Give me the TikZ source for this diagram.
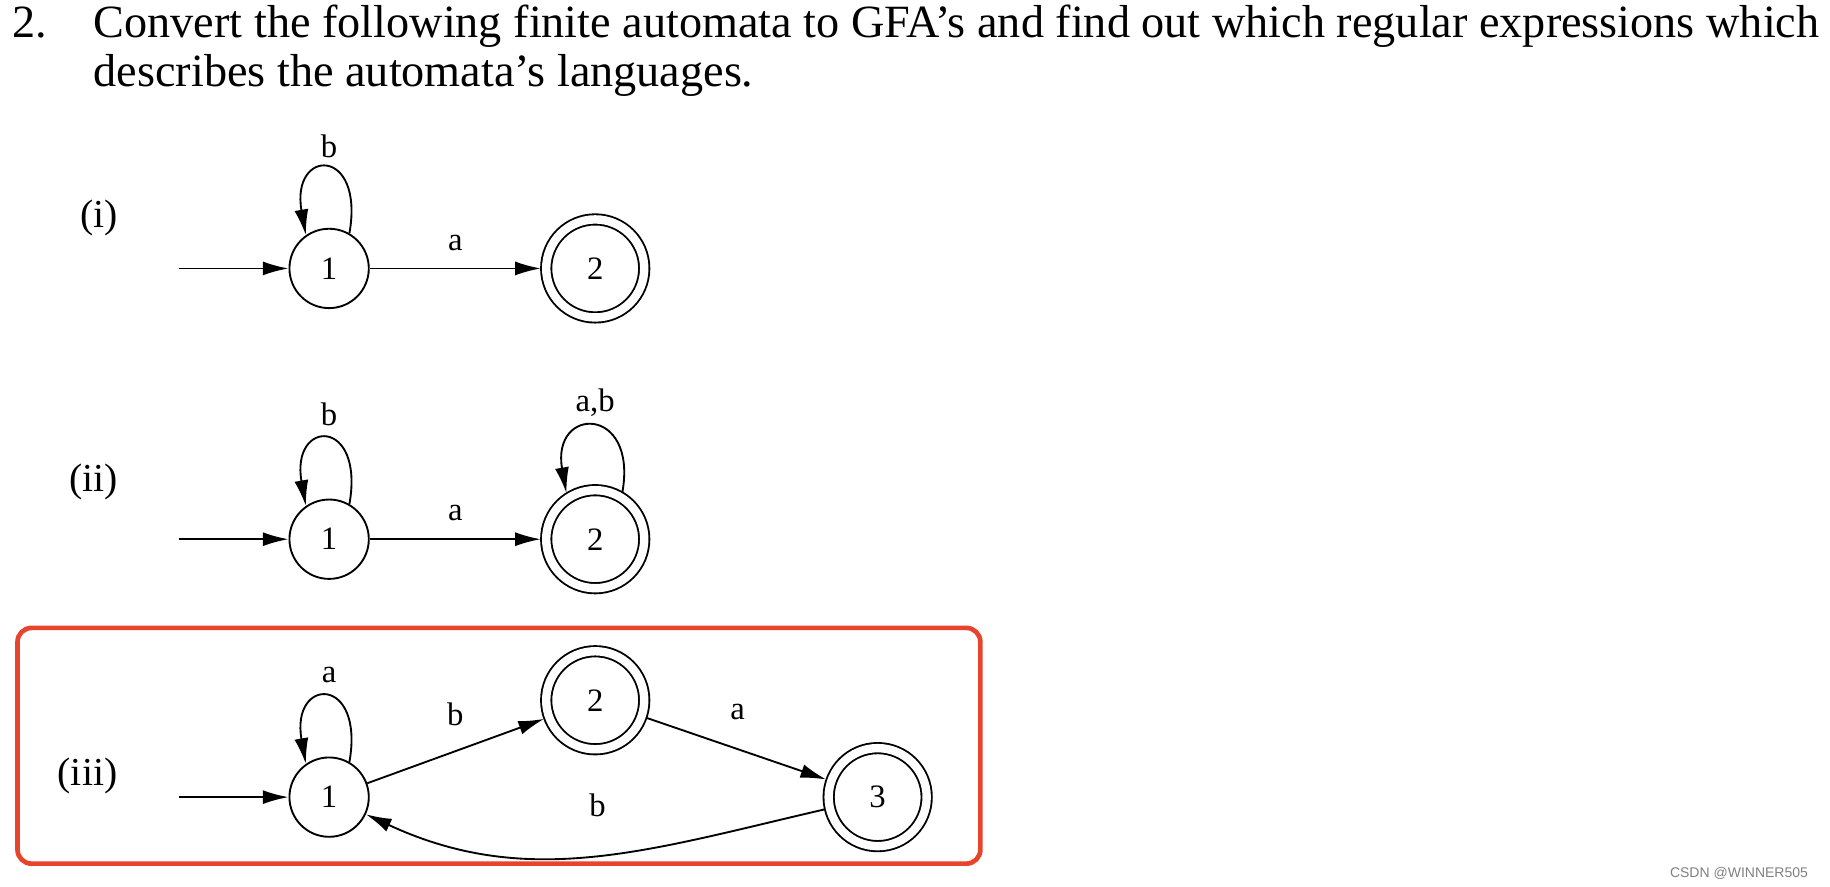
\documentclass[tikz,border=0pt]{standalone}
\usepackage{fontspec}
\setmainfont{Liberation Serif}
\newfontfamily\wmfont{Liberation Sans}
\usetikzlibrary{arrows.meta}
\begin{document}
\begin{tikzpicture}[x=0.5pt,y=-0.5pt,
  st/.style={circle,draw,line width=0.8pt,minimum size=34pt,inner sep=0pt,font=\fontsize{14}{14}\selectfont},
  acc/.style={circle,draw,line width=0.8pt,double,double distance=3.6pt,minimum size=42pt,inner sep=0pt,outer sep=2.3pt,font=\fontsize{14}{14}\selectfont},
  lbl/.style={font=\fontsize{14}{14}\selectfont},
  ed/.style={line width=0.8pt,-{Latex[length=11pt,width=6pt]}},
  lp/.style={ed,out=80,in=100,distance=38pt},
  ttl/.style={font=\fontsize{19.8}{22}\selectfont,anchor=base west,inner sep=0pt}]
\useasboundingbox (0,0) rectangle (1568,760);
\node[ttl] (n2) at (10,32) {2.};
\node[ttl] (t1) at (80,32) {Convert the following finite automata to GFA’s and find out which regular expressions which};
\node[ttl] (t2) at (80,74) {describes the automata’s languages.};
% (i)
\node[lbl,font=\fontsize{17}{17}\selectfont] (li) at (85,187) {(i)};
\node[st] (a1) at (282,230) {1};
\node[acc] (a2) at (510,230) {2};
\coordinate (as) at (153,230);
\draw[ed] (as) -- (a1);
\draw[ed] (a1) -- node[lbl,above=4pt] (la) {a} (a2);
\draw[lp] (a1.60) to (a1.125);
\node[lbl] (lb) at (282,125) {b};
% (ii)
\node[lbl,font=\fontsize{17}{17}\selectfont] (lii) at (80,413) {(ii)};
\node[st] (b1) at (282,462) {1};
\node[acc] (b2) at (510,462) {2};
\coordinate (bs) at (153,462);
\draw[ed] (bs) -- (b1);
\draw[ed] (b1) -- node[lbl,above=4pt] (lba) {a} (b2);
\draw[lp] (b1.60) to (b1.125);
\node[lbl] (lbb) at (282,355) {b};
\draw[lp] (b2.60) to (b2.122);
\node[lbl] (lbab) at (510,345) {a,b};
% (iii)
\draw[line width=2pt,draw={rgb,255:red,232;green,67;blue,44},rounded corners=6pt] (15,538) rectangle (840,740);
\node[lbl,font=\fontsize{17}{17}\selectfont] (liii) at (75,665) {(iii)};
\node[st] (c1) at (282,683) {1};
\node[acc] (c2) at (510,600) {2};
\node[acc] (c3) at (752,683) {3};
\coordinate (cs) at (153,683);
\draw[ed] (cs) -- (c1);
\draw[lp] (c1.60) to (c1.125);
\node[lbl] (lca) at (282,578) {a};
\draw[ed] (c1) -- (c2);
\node[lbl] (lcb) at (390,612) {b};
\draw[ed] (c2) -- (c3);
\node[lbl] (lca2) at (632,610) {a};
\draw[ed] (c3) to[out=193,in=-25] (c1);
\node[lbl] (lcb2) at (512,690) {b};
\node[font=\wmfont\fontsize{6}{6}\selectfont,text=gray] (wm) at (1490,748) {CSDN @WINNER505};
\end{tikzpicture}
\end{document}
